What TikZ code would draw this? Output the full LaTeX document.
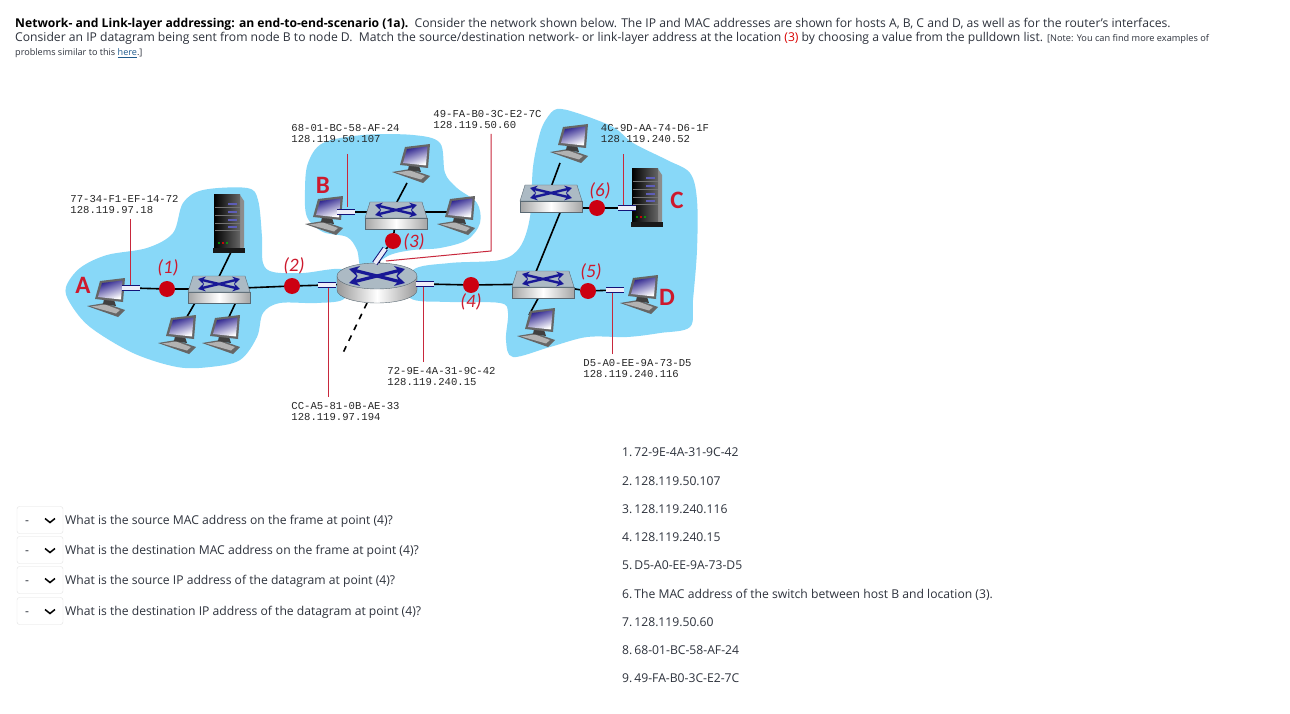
\documentclass[tikz,border=0pt]{standalone}
\usepackage{fontspec}
\setmainfont{Open Sans}
\newfontfamily\macfont{Liberation Mono}
\newfontfamily\calloutfont{Carlito}
\definecolor{CloudBlue}{RGB}{136,216,248}
\definecolor{LeaderRed}{RGB}{200,40,60}
\definecolor{DotRed}{RGB}{204,0,17}
\definecolor{CalloutRed}{RGB}{205,25,45}
\definecolor{CrossBlue}{RGB}{24,24,150}
\definecolor{ScreenBlue}{RGB}{40,30,140}
\definecolor{DeviceTop}{RGB}{172,186,196}
\definecolor{DeviceEdge}{RGB}{90,105,115}
\definecolor{BodyText}{RGB}{45,50,60}
\definecolor{LinkBlue}{RGB}{30,90,140}
\definecolor{SelectEdge}{RGB}{225,225,225}
\usetikzlibrary{calc, arrows.meta}
\tikzset{
    link/.style={draw=black, line width=1.6pt},
    leader/.style={draw=LeaderRed, line width=1pt},
    mac label/.style={font=\macfont\fontsize{10.6}{11}\selectfont, align=left, inner sep=5pt, text=black!85},
    host letter/.style={font=\calloutfont\bfseries\fontsize{25}{25}\selectfont, text=CalloutRed, inner sep=0pt},
    point label/.style={font=\calloutfont\itshape\fontsize{19}{19}\selectfont, text=CalloutRed, inner sep=0pt},
    point dot/.style={circle, fill=DotRed, minimum size=16pt, inner sep=0pt},
    body text/.style={font=\fontsize{12.15}{14}\selectfont, text=BodyText, anchor=base west, inner sep=0pt},
    pulldown/.style={draw=SelectEdge, rounded corners=2.5pt, minimum width=46pt, minimum height=27pt, inner sep=0pt},
    chevron/.style={draw=black, line width=1.5pt},
    cross arm/.style={draw=CrossBlue, line width=2.4pt, {Stealth[length=7pt,width=8pt]}-{Stealth[length=7pt,width=8pt]}},
    router arm/.style={draw=CrossBlue, line width=3.2pt, {Stealth[length=10pt,width=11pt]}-{Stealth[length=10pt,width=11pt]}},
    net host/.pic={
        \fill[black!60] (-19,9) -- (-1,6) -- (19,13) -- (12,20) -- cycle;
        \fill[black!30] (-15,9.5) -- (-1,7.5) -- (14,13) -- (10,16.5) -- cycle;
        \fill[black!75] (-2,2) -- (8,3) -- (10,9) -- (-3,7) -- cycle;
        \fill[black!60] (-6,-16) -- (19,-19) -- (17,5) -- (-11,2) -- cycle;
        \shade[top color=ScreenBlue, bottom color=white, shading angle=20]
            (-4,-14) -- (16.5,-16.5) -- (15,2.5) -- (-8,0) -- cycle;
    },
    net switch/.pic={
        \draw[DeviceEdge, left color=black!35, right color=black!35, middle color=white]
            (-31,3) rectangle (31,14);
        \draw[DeviceEdge, fill=DeviceTop] (-26,-13) -- (26,-13) -- (31,3) -- (-31,3) -- cycle;
        \draw[cross arm] (-21,-10) -- (21,0);
        \draw[cross arm] (21,-10) -- (-21,0);
    },
    net router/.pic={
        \draw[DeviceEdge, left color=black!40, right color=black!40, middle color=white]
            (-40,-7) -- (-40,7) .. controls (-40,14.2) and (-22,20) .. (0,20)
            .. controls (22,20) and (40,14.2) .. (40,7) -- (40,-7) -- cycle;
        \draw[DeviceEdge, fill=DeviceTop] (0,-7) ellipse [x radius=40pt, y radius=13pt];
        \draw[router arm] (-28,-14) -- (28,0);
        \draw[router arm] (28,-14) -- (-28,0);
    },
    net server/.pic={
        \fill[black!45] (11,-29) -- (15,-23) -- (15,23) -- (11,29) -- cycle;
        \shade[left color=black, right color=black!60] (-15,-29) rectangle (11,24);
        \fill[black!90] (-16,24) rectangle (16,29);
        \foreach \y in {-20,-12,-4,3} {
            \draw[black!55] (-14,\y+3) -- (11,\y+3);
            \fill[CrossBlue!70!white] (-1,\y-1) rectangle (8,\y+1);
        }
        \fill[green!70!black] (-10,19) circle (1.2pt);
        \fill[red] (-6,19) circle (1.2pt);
        \fill[green!70!black] (-2,19) circle (1.2pt);
    },
    net port/.pic={
        \fill[CrossBlue!80!black] (-9,-3) rectangle (9,3);
        \fill[CrossBlue!8!white] (-9,-2) rectangle (9,2);
    }
}

\begin{document}
\begin{tikzpicture}[x=1pt, y=-1pt]

\useasboundingbox[fill=white] (0,0) rectangle (1290,714);

% Colorear las tres nubes de las subredes.
\fill[CloudBlue] plot[smooth cycle, tension=0.55] coordinates {
    (66,287) (80,268) (107,255) (147,248) (173,233) (183,203) (203,190) (247,188)
    (258,200) (262,237) (263,263) (273,272) (303,273) (345,270) (345,298) (317,303)
    (280,303) (263,313) (257,337) (240,360) (210,367) (177,367) (133,353) (90,327) (70,303)};
\fill[CloudBlue] plot[smooth cycle, tension=0.55] coordinates {
    (305,190) (308,163) (323,143) (363,135) (413,135) (440,143) (445,173) (457,188)
    (477,203) (480,223) (467,240) (440,248) (413,250) (390,255) (363,270) (357,250)
    (347,237) (323,232) (307,217)};
\fill[CloudBlue] plot[smooth cycle, tension=0.55] coordinates {
    (557,109) (577,113) (613,127) (633,143) (667,160) (690,173) (697,200) (697,250)
    (693,300) (690,327) (660,333) (627,337) (587,337) (550,347) (513,357) (506,340)
    (508,313) (500,303) (450,302) (410,298) (413,270) (450,263) (500,260) (520,247)
    (530,217) (533,167) (540,133) (547,118)};

% Posiciones de los equipos.
\coordinate (HostA) at (106,297);
\coordinate (HostLeft) at (177,334);
\coordinate (HostMiddle) at (221,334);
\coordinate (ServerLeft) at (229,224);
\coordinate (SwitchLeft) at (219,289);
\coordinate (HostB) at (324,215);
\coordinate (HostTop) at (411,163);
\coordinate (HostRight) at (456,215);
\coordinate (SwitchB) at (396,215);
\coordinate (Router) at (377,283);
\coordinate (SwitchLow) at (543,284);
\coordinate (SwitchHigh) at (551,198);
\coordinate (HostHigh) at (569,143);
\coordinate (HostLow) at (536,327);
\coordinate (HostD) at (639,294);
\coordinate (ServerC) at (647,198);

% Interfaces.
\coordinate (PortA) at (131,288);
\coordinate (PortB) at (346,212);
\coordinate (PortC) at (627,208);
\coordinate (PortD) at (615,290);
\coordinate (PortLeft) at (327,285);
\coordinate (PortRight) at (425,284);
\coordinate (PortTop) at (380,256);

% Tomas de las lineas rojas sobre cada interfaz.
\coordinate (TapA) at (130,285);
\coordinate (TapB) at (347,207);
\coordinate (TapC) at (623,205);
\coordinate (TapD) at (612,293);
\coordinate (TapLeft) at (328,288);
\coordinate (TapRight) at (423,287);
\coordinate (TapTop) at (386,261);
\coordinate (TapBend) at (491,251);
\coordinate (DashEnd) at (342,355);

% Puntos de observacion.
\node[point dot] (DotOne) at (167,289) {};
\node[point dot] (DotTwo) at (292,286) {};
\node[point dot] (DotThree) at (393,241) {};
\node[point dot] (DotFour) at (471,285) {};
\node[point dot] (DotFive) at (588,291) {};
\node[point dot] (DotSix) at (597,208) {};

% Dibujamos los enlaces antes de los equipos para que estos los cubran.
\draw[link] (PortA) -- (DotOne) -- (SwitchLeft) -- (DotTwo) -- (PortLeft) -- (Router);
\draw[link] ($(SwitchLeft)+(-6,0)$) -- ($(ServerLeft)+(3,26)$);
\draw[link] ($(SwitchLeft)+(-16,0)$) -- (HostLeft);
\draw[link] ($(SwitchLeft)+(23,0)$) -- (HostMiddle);
\draw[link] (PortB) -- ($(SwitchB)+(0,-3)$) -- ($(HostRight)+(0,-3)$);
\draw[link] ($(SwitchB)+(-6,0)$) -- ($(HostTop)+(-4,20)$);
\draw[link] (SwitchB) -- (DotThree) -- (PortTop) -- (Router);
\draw[link] (Router) -- (PortRight) -- (DotFour) -- (SwitchLow);
\draw[link] (SwitchLow) -- (DotFive) -- (PortD);
\draw[link] ($(SwitchLow)+(3,0)$) -- ($(HostLow)+(-7,-12)$);
\draw[link] ($(SwitchLow)+(-12,0)$) -- ($(SwitchHigh)+(15,0)$);
\draw[link] ($(SwitchHigh)+(-4,0)$) -- ($(HostHigh)+(-9,20)$);
\draw[link] ($(SwitchHigh)+(0,10)$) -- (DotSix) -- (PortC);
\draw[link, dashed, dash pattern=on 6pt off 6pt] ($(Router)+(-10,20)$) -- (DashEnd);

% Equipos.
\foreach \host in {HostA, HostLeft, HostMiddle, HostB, HostTop, HostRight, HostHigh, HostLow, HostD}
    \path (\host) pic {net host};
\foreach \switch in {SwitchLeft, SwitchB, SwitchLow, SwitchHigh}
    \path (\switch) pic {net switch};
\path (ServerLeft) pic {net server};
\path (ServerC) pic {net server};
\path (Router) pic {net router};

\foreach \port in {PortA, PortB, PortC, PortD, PortLeft, PortRight}
    \path (\port) pic {net port};
\path (PortTop) pic[rotate=55] {net port};

% Direcciones.
\node[mac label] (LabelA) at (124.5,204.5) {77-34-F1-EF-14-72\\128.119.97.18};
\node[mac label] (LabelB) at (345.5,133.5) {68-01-BC-58-AF-24\\128.119.50.107};
\node[mac label] (LabelTop) at (487.5,119.5) {49-FA-B0-3C-E2-7C\\128.119.50.60};
\node[mac label] (LabelC) at (655,133.5) {4C-9D-AA-74-D6-1F\\128.119.240.52};
\node[mac label] (LabelD) at (637.5,368.5) {D5-A0-EE-9A-73-D5\\128.119.240.116};
\node[mac label] (LabelRight) at (441.5,376.5) {72-9E-4A-31-9C-42\\128.119.240.15};
\node[mac label] (LabelLeft) at (345.5,411.5) {CC-A5-81-0B-AE-33\\128.119.97.194};

\draw[leader] (LabelA.south -| TapA) -- (TapA);
\draw[leader] ($(LabelB.south -| TapB)+(0,6)$) -- (TapB);
\draw[leader] ($(LabelC.south -| TapC)+(0,6)$) -- (TapC);
\draw[leader] (LabelD.north -| TapD) -- (TapD);
\draw[leader] (LabelRight.north -| TapRight) -- (TapRight);
\draw[leader] (LabelLeft.north -| TapLeft) -- (TapLeft);
\draw[leader] (LabelTop.south -| TapBend) -- (TapBend) -- (TapTop);

% Letras de los nodos y numeros de los puntos.
\node[host letter] (LetterA) at (83,285) {A};
\node[host letter] (LetterB) at (323,185) {B};
\node[host letter] (LetterC) at (677,200) {C};
\node[host letter] (LetterD) at (667,297) {D};
\node[point label] (PointOne) at (168,268) {(1)};
\node[point label] (PointTwo) at (294,266) {(2)};
\node[point label] (PointThree) at (414,242) {(3)};
\node[point label] (PointFour) at (471,302) {(4)};
\node[point label] (PointFive) at (591,272) {(5)};
\node[point label] (PointSix) at (600,191) {(6)};

% Enunciado.
\node[body text] (StatementOne) at (15,28) {\textbf{\textcolor{black}{Network- and Link-layer addressing: an end-to-end-scenario (1a).}}\ \ Consider the network shown below. The IP and MAC addresses are shown for hosts A, B, C and D, as well as for the router's interfaces.};
\node[body text] (StatementTwo) at (15,42) {Consider an IP datagram being sent from node B to node D.\ \ Match the source/destination network- or link-layer address at the location \textcolor{red!85!black}{(3)} by choosing a value from the pulldown list. {\fontsize{9.2}{10}\selectfont [Note: You can find more examples of}};
\node[body text, font=\fontsize{9.1}{10}\selectfont] (StatementThree) at (15,56) {problems similar to this \textcolor{LinkBlue}{\underline{here}}.]};

% Preguntas con su lista desplegable.
\foreach \i/\y/\question in {
    1/520/What is the source MAC address on the frame at point (4)?,
    2/550/What is the destination MAC address on the frame at point (4)?,
    3/580/What is the source IP address of the datagram at point (4)?,
    4/611/What is the destination IP address of the datagram at point (4)?} {
    \node[pulldown] (Select\i) at (40,\y) {};
    \node[body text, anchor=base] (Dash\i) at (27,\y+4) {-};
    \draw[chevron] ($(Select\i.center)+(5,-1.5)$) -- ++(5,4) -- ++(5,-4);
    \node[body text] (Question\i) at (65,\y+4) {\question};
}

% Lista de opciones.
\foreach \i/\y/\option in {
    1/456/72-9E-4A-31-9C-42,
    2/485/128.119.50.107,
    3/513/128.119.240.116,
    4/541/128.119.240.15,
    5/569/D5-A0-EE-9A-73-D5,
    6/598/The MAC address of the switch between host B and location (3).,
    7/626/128.119.50.60,
    8/654/68-01-BC-58-AF-24,
    9/682/49-FA-B0-3C-E2-7C} {
    \node[body text] (Option\i) at (622,\y) {\i.\,\option};
}

\end{tikzpicture}
\end{document}
